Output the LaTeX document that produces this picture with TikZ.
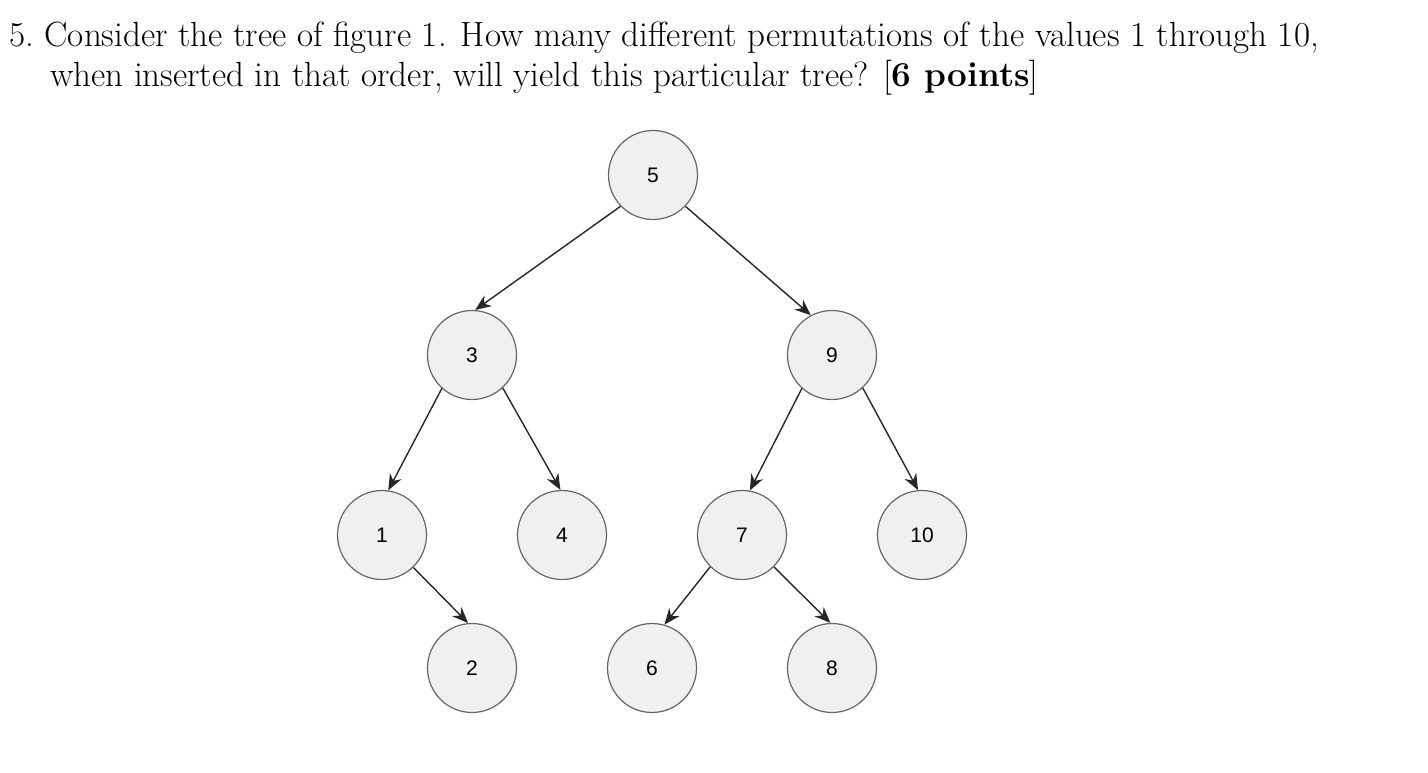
\documentclass[tikz,border=0pt]{standalone}
\usepackage{fontspec}
\newfontfamily\nodefont{Liberation Sans}
\usetikzlibrary{arrows.meta}
\begin{document}
\begin{tikzpicture}[x=1pt,y=-1pt,
  tn/.style={circle,draw=black!60,fill=black!6,line width=1.2pt,minimum size=89pt,inner sep=0pt,font=\nodefont\fontsize{21}{21}\selectfont},
  ed/.style={line width=1.4pt,black!85,-{Stealth[length=16pt,width=13pt]}}]
\useasboundingbox (0,0) rectangle (1428,773);
\node[anchor=base west,align=left,inner sep=0pt,font=\fontsize{35}{40}\selectfont] (q) at (9,87)
 {5.\ Consider the tree of figure 1. How many different permutations of the values 1 through 10,\\
 \hspace*{41pt}when inserted in that order, will yield this particular tree? [\textbf{6 points}]};
\node[tn] (n5) at (653,175) {5};
\node[tn] (n3) at (472,355) {3};
\node[tn] (n9) at (832,355) {9};
\node[tn] (n1) at (382,535) {1};
\node[tn] (n4) at (562,535) {4};
\node[tn] (n7) at (742,535) {7};
\node[tn] (n10) at (922,535) {10};
\node[tn] (n2) at (472,668) {2};
\node[tn] (n6) at (652,668) {6};
\node[tn] (n8) at (832,668) {8};
\draw[ed] (n5.224) -- (n3.86);
\draw[ed] (n5.316) -- (n9.118);
\draw[ed] (n3.228) -- (n1.82);
\draw[ed] (n3.313) -- (n4.92);
\draw[ed] (n9.228) -- (n7.80);
\draw[ed] (n9.313) -- (n10.95);
\draw[ed] (n1.314) -- (n2.95);
\draw[ed] (n7.225) -- (n6.74);
\draw[ed] (n7.315) -- (n8.92);
\end{tikzpicture}
\end{document}
